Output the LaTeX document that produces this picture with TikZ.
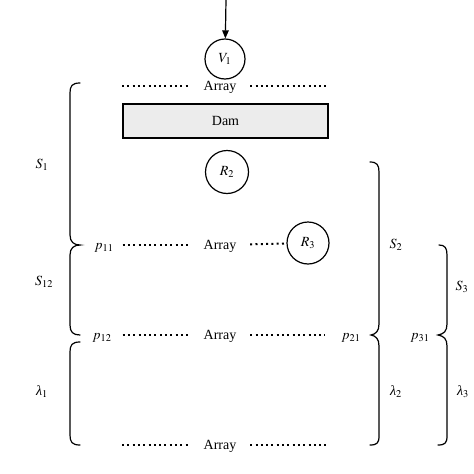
\documentclass[tikz,border=0pt]{standalone}
\usepackage{mathptmx}
\usepackage{fontspec}
\setmainfont{Liberation Serif}
\usetikzlibrary{arrows.meta}

\tikzset{
  lbl/.style={inner sep=0pt, text height=9pt, text depth=0pt},
  arr/.style={lbl, minimum width=60pt},
  dots/.style={line width=2pt, dash pattern=on 2pt off 3.3pt},
  res/.style={draw, circle, line width=1.2pt, inner sep=0pt},
  brace/.style={line width=1.2pt, line cap=round}
}

\begin{document}
\begin{tikzpicture}[x=1pt, y=-1pt, font=\fontsize{14}{16}\selectfont]
\useasboundingbox (0,0) rectangle (474,474);

% Reservoirs
\node[res, minimum size=40pt] (V1) at (225,59) {$V_1$};
\node[res, minimum size=43pt] (R2) at (227,172) {$R_2$};
\node[res, minimum size=42pt] (R3) at (308,243) {$R_3$};

% Inflow
\coordinate (inflow) at (226,0);
\draw[line width=1.2pt, -{Triangle[length=8pt,width=6.5pt]}] (inflow) -- (V1);

% Dam
\node[draw, fill=gray!15, line width=1.3pt, minimum width=205pt, minimum height=34pt] (dam) at (225.5,121) {Dam};

% Array rows
\foreach \n/\y in {A/86,B/245,C/335,D/445}
  \node[arr] (arr\n) at (220,\y) {Array};

% Row labels
\node[lbl] (p11) at (104,245) {$p_{11}$};
\node[lbl] (p12) at (102,335) {$p_{12}$};
\node[lbl] (p21) at (351,335) {$p_{21}$};
\node[lbl] (p31) at (420,335) {$p_{31}$};

% Free ends of the dotted lines
\coordinate (aL) at (122,86);
\coordinate (aR) at (327,86);
\coordinate (dL) at (122,445);
\coordinate (dR) at (327,445);

% Dotted lines
\draw[dots] (aL) -- (arrA);
\draw[dots] (arrA) -- (aR);
\draw[dots, shorten <=9pt] (p11) -- (arrB);
\draw[dots] (arrB) -- (R3);
\draw[dots, shorten <=11pt] (p12) -- (arrC);
\draw[dots, shorten >=16pt] (arrC) -- (p21);
\draw[dots] (dL) -- (arrD);
\draw[dots] (arrD) -- (dR);

% Left braces
\draw[brace] (80,83) .. controls (72,83) and (70,86) .. (70,93) -- (70,235)
  .. controls (70,242) and (74,245) .. (80,245)
  .. controls (74,245) and (70,248) .. (70,255) -- (70,325)
  .. controls (70,332) and (73,335) .. (80,335);
\draw[brace] (80,342) .. controls (72,342) and (70,345) .. (70,352) -- (70,435)
  .. controls (70,442) and (72,445) .. (80,445);

% Right braces
\draw[brace] (370,162) .. controls (377,162) and (379,165) .. (379,172) -- (379,324)
  .. controls (379,331) and (376,334) .. (371,335)
  .. controls (376,336) and (379,339) .. (379,346) -- (379,436)
  .. controls (379,443) and (377,445) .. (370,445);
\draw[brace] (439,245) .. controls (445,245) and (447,248) .. (447,255) -- (447,324)
  .. controls (447,331) and (444,334) .. (438,335)
  .. controls (444,336) and (447,339) .. (447,346) -- (447,436)
  .. controls (447,443) and (445,445) .. (438,445);

% Brace labels
\node (S1) at (42,165) {$S_1$};
\node (S12) at (44,282) {$S_{12}$};
\node (L1) at (42,392) {\textit{λ}$_1$};
\node (S2) at (396,245) {$S_2$};
\node (L2) at (396,392) {\textit{λ}$_2$};
\node (S3) at (462,287) {$S_3$};
\node (L3) at (463,392) {\textit{λ}$_3$};

\end{tikzpicture}
\end{document}
